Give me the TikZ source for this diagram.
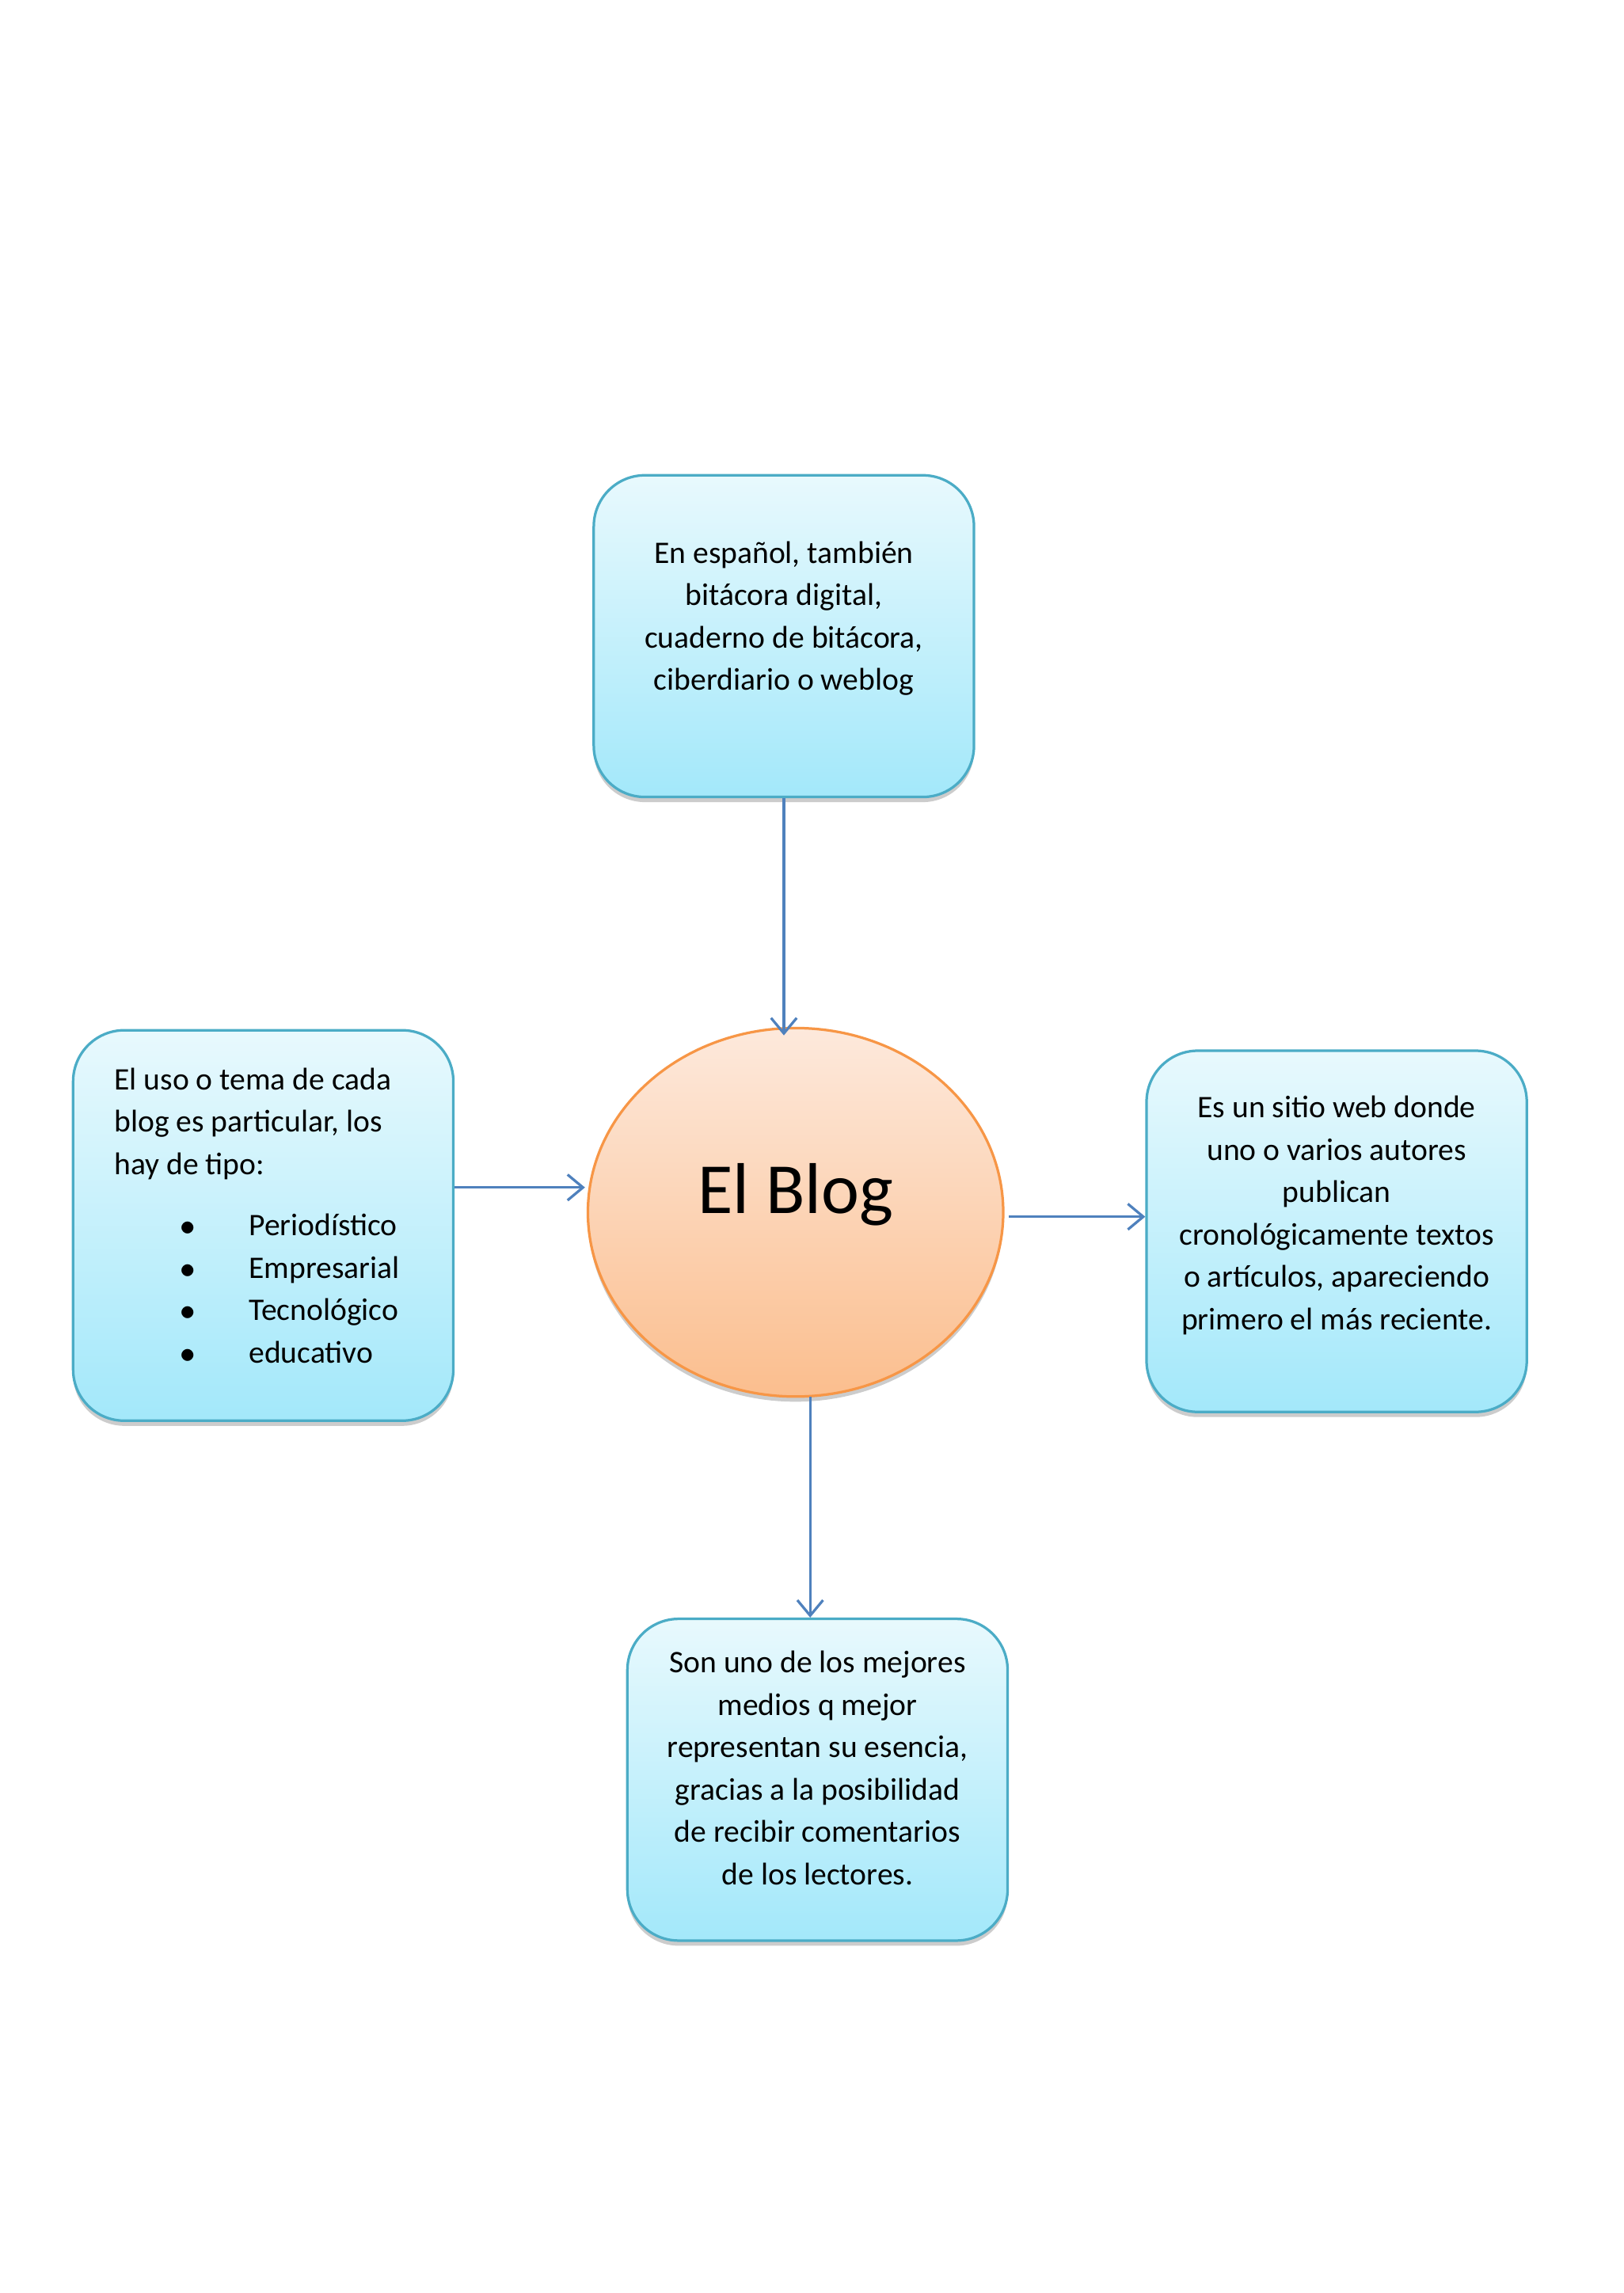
\documentclass[tikz,border=0pt]{standalone}
\usepackage{fontspec}
\setmainfont{Carlito}
\usetikzlibrary{arrows.meta,shadows,shapes.geometric}
\definecolor{bx}{HTML}{4BACC6}
\definecolor{btop}{HTML}{E8F9FD}
\definecolor{bbot}{HTML}{A3E8FA}
\definecolor{eb}{HTML}{F79646}
\definecolor{etop}{HTML}{FDE9DC}
\definecolor{ebot}{HTML}{FBBE8E}
\definecolor{ln}{HTML}{4F81BD}
\tikzset{
 card/.style={draw=bx, line width=1pt, rounded corners=0.7cm, top color=btop, bottom color=bbot,
   drop shadow={shadow xshift=0pt, shadow yshift=-2pt, opacity=0.4, fill=gray}, minimum width=260*0.02cm},
 txt/.style={align=center, font=\fontsize{12.2}{16.5}\selectfont},
 conn/.style={draw=ln, line width=1pt, -{Straight Barb[length=6pt,width=10pt]}}
}
\begin{document}
\begin{tikzpicture}[x=0.02cm,y=-0.02cm]
\useasboundingbox (0,0) rectangle (1110,1568);
\node[card, minimum height=220*0.02cm] (top) at (536,435) {};
\node[txt] (toptxt) at (536,423) {En español, también\\bitácora digital,\\cuaderno de bitácora,\\ciberdiario o weblog};
\node[card, minimum height=267*0.02cm] (left) at (180,838) {};
\node[anchor=north west, align=left, font=\fontsize{12.2}{16.5}\selectfont] (lefttxt) at (72,724)
 {El uso o tema de cada\\blog es particular, los\\hay de tipo:\\[0.6em]
 \hspace*{2.1em}$\bullet$\hspace{1.7em}Periodístico\\
 \hspace*{2.1em}$\bullet$\hspace{1.7em}Empresarial\\
 \hspace*{2.1em}$\bullet$\hspace{1.7em}Tecnológico\\
 \hspace*{2.1em}$\bullet$\hspace{1.7em}educativo};
\node[card, minimum height=247*0.02cm] (right) at (914,842) {};
\node[txt] (righttxt) at (914,831) {Es un sitio web donde\\uno o varios autores\\publican\\cronológicamente textos\\o artículos, apareciendo\\primero el más reciente.};
\node[card, minimum height=220*0.02cm] (bot) at (559,1217) {};
\node[txt] (bottxt) at (559,1209) {Son uno de los mejores\\medios q mejor\\representan su esencia,\\gracias a la posibilidad\\de recibir comentarios\\de los lectores.};
\node[ellipse, draw=eb, line width=1pt, top color=etop, bottom color=ebot, minimum width=284*0.02cm, minimum height=252*0.02cm,
 drop shadow={shadow xshift=0pt, shadow yshift=-2pt, opacity=0.4, fill=gray}, inner sep=0pt] (blog) at (544,829) {};
\node[font=\fontsize{28}{34}\selectfont] (blogtxt) at (544,817) {El Blog};
\draw[conn] (top.south) -- (536,708);
\draw[conn] (left.east |- 0,812) -- (400,812);
\draw[conn] (690,832) -- (right.west |- 0,832);
\draw[conn] (554,955) -- (bot.north -| 554,0);
\end{tikzpicture}
\end{document}
